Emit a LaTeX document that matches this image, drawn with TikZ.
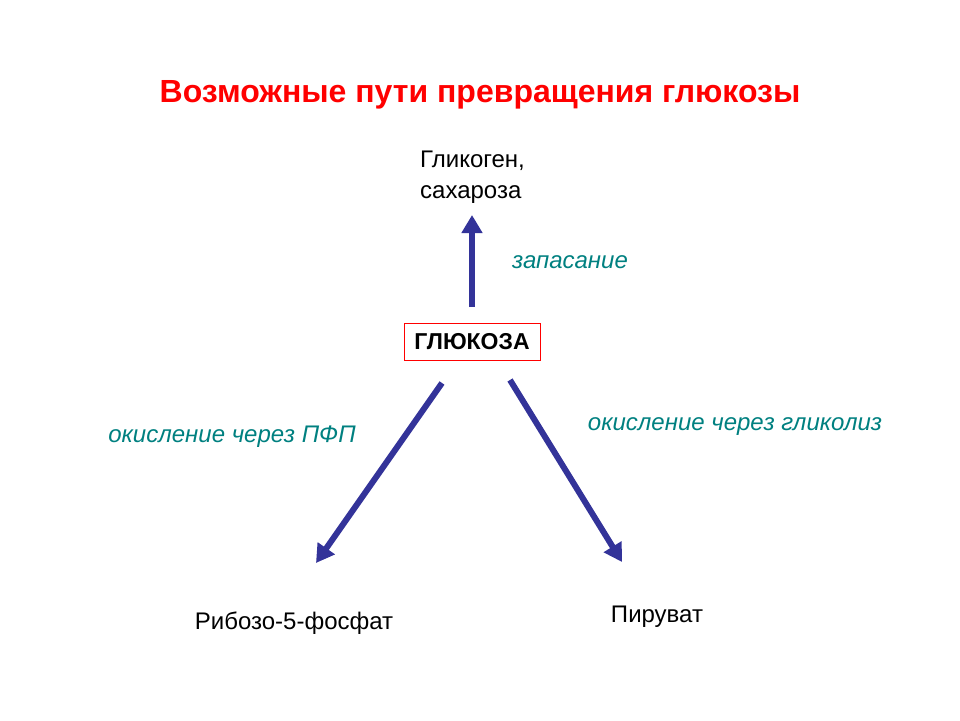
\documentclass[tikz,border=0pt]{standalone}
\usepackage{fontspec}
\setmainfont{Liberation Sans}
\usetikzlibrary{arrows.meta}
\definecolor{arr}{HTML}{333399}
\definecolor{tl}{HTML}{008080}
\begin{document}
\begin{tikzpicture}[x=1pt,y=-1pt,
  lbl/.style={font=\fontsize{24}{30}\selectfont},
  cmt/.style={font=\fontsize{24}{30}\selectfont\itshape,text=tl},
  conn/.style={draw=arr,line width=6pt,-{Triangle[length=18pt,width=20pt]}}]
\useasboundingbox (0,0) rectangle (960,720);
\node[font=\fontsize{32}{38}\selectfont\bfseries,text=red] (t) at (480,95) {Возможные пути превращения глюкозы};
\node[font=\fontsize{24}{30}\selectfont,align=left,anchor=north west,inner sep=0] (g) at (420,151) {Гликоген,\\[1pt]сахароза};
\node[draw=red,line width=1pt,minimum width=136pt,minimum height=37pt,font=\fontsize{23}{30}\selectfont\bfseries] (glu) at (472,342) {ГЛЮКОЗА};
\node[lbl] (r) at (294,623) {Рибозо-5-фосфат};
\node[lbl] (p) at (657,617) {Пируват};
\coordinate (a1) at (472,307); \coordinate (a2) at (472,215);
\coordinate (b1) at (442,383); \coordinate (b2) at (316,563);
\coordinate (c1) at (510,380); \coordinate (c2) at (622,562);
\draw[conn] (a1) -- (a2);
\draw[conn] (b1) -- (b2);
\draw[conn] (c1) -- (c2);
\node[cmt] (l1) at (570,262) {запасание};
\node[cmt] (l2) at (232,437) {окисление через ПФП};
\node[cmt] (l3) at (735,427) {окисление через гликолиз};
\end{tikzpicture}
\end{document}
